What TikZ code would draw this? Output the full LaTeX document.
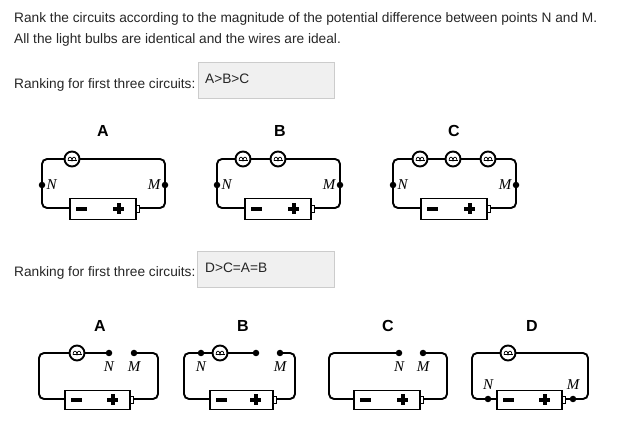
\documentclass[tikz,border=0pt]{standalone}
\usepackage{fontspec}
\setmainfont{Liberation Sans}
\newfontfamily\serifit{Liberation Serif}
\tikzset{
 wire/.style={line width=1.9pt,rounded corners=5pt},
 txt/.style={anchor=base west,inner sep=0pt,font=\fontsize{13.7}{16}\selectfont,text=black!85},
 ttl/.style={font=\fontsize{16}{18}\selectfont\bfseries},
 lab/.style={font=\serifit\itshape\fontsize{15}{17}\selectfont,inner sep=1pt},
 dot/.style={circle,fill=black,inner sep=0pt,minimum size=6.5pt},
 ansbox/.style={draw=black!20,fill=black!6}
}
\newcommand\batt[4]{% x1 x2 yc h
 \draw[line width=1.9pt,fill=white] (#1,{#3-#4/2}) rectangle (#2,{#3+#4/2});
 \draw[line width=1.2pt,fill=white] (#2,{#3-3.5}) rectangle ({#2+3.5},{#3+3.5});
 \fill ({#1+6},{#3-2}) rectangle ({#1+17},{#3+2});
 \fill ({#2-23},{#3-2}) rectangle ({#2-12},{#3+2});
 \fill ({#2-19.5},{#3-5.5}) rectangle ({#2-15.5},{#3+5.5});
}
\newcommand\bulb[2]{%
 \draw[line width=1.9pt,fill=white] (#1,#2) circle (7.5);
 \draw[line width=0.7pt] ({#1-4},{#2+1.5}) .. controls ({#1-4},{#2-3}) and ({#1},{#2-3}) .. ({#1},{#2+1.5})
   .. controls ({#1},{#2-3}) and ({#1+4},{#2-3}) .. ({#1+4},{#2+1.5});
 \draw[line width=0.7pt] ({#1-4.5},{#2+1.5}) -- ({#1+4.5},{#2+1.5});
}
\begin{document}
\begin{tikzpicture}[x=1pt,y=-1pt]
\useasboundingbox (0,0) rectangle (619,446);
\node[txt] (t1) at (14,23) {Rank the circuits according to the magnitude of the potential difference between points N and M.};
\node[txt] (t2) at (14,44) {All the light bulbs are identical and the wires are ideal.};
\node[txt] (r1) at (14,89) {Ranking for first three circuits:};
\draw[ansbox] (198,62) rectangle (334,98);
\node[txt] (a1) at (205,84) {A>B>C};
\node[txt] (r2) at (14,277) {Ranking for first three circuits:};
\draw[ansbox] (197,251) rectangle (334,287);
\node[txt] (a2) at (205,273) {D>C=A=B};
% top A
\node[ttl] (lA) at (103,131) {A};
\draw[wire] (80,208) -- (42,208) -- (42,159) -- (165,159) -- (165,208) -- (130,208);
\batt{70}{136}{209}{21}
\bulb{72}{159}
\node[dot] (nA) at (42,185) {}; \node[lab,anchor=west] at (nA.east) {N};
\node[dot] (mA) at (165,185) {}; \node[lab,anchor=east] at (mA.west) {M};
% top B
\node[ttl] (lB) at (280,131) {B};
\draw[wire] (255,208) -- (217,208) -- (217,159) -- (340,159) -- (340,208) -- (305,208);
\batt{245}{311}{209}{21}
\bulb{243}{159}\bulb{278}{159}
\node[dot] (nB) at (217,185) {}; \node[lab,anchor=west] at (nB.east) {N};
\node[dot] (mB) at (340,185) {}; \node[lab,anchor=east] at (mB.west) {M};
% top C
\node[ttl] (lC) at (454,131) {C};
\draw[wire] (431,208) -- (393,208) -- (393,159) -- (516,159) -- (516,208) -- (481,208);
\batt{421}{487}{209}{21}
\bulb{420}{159}\bulb{453}{159}\bulb{488}{159}
\node[dot] (nC) at (393,185) {}; \node[lab,anchor=west] at (nC.east) {N};
\node[dot] (mC) at (516,185) {}; \node[lab,anchor=east] at (mC.west) {M};
% bottom A
\node[ttl] (bA) at (100,326) {A};
\node[dot] (bnA) at (109,353) {}; \node[dot] (bmA) at (134,353) {};
\draw[wire] (bnA.center) -- (39,353) -- (39,399) -- (75,399);
\draw[wire] (bmA.center) -- (158,353) -- (158,399) -- (125,399);
\batt{65}{130}{400}{19}
\bulb{77}{353}
\node[lab] at (109,367) {N}; \node[lab] at (134,367) {M};
% bottom B
\node[ttl] (bB) at (243,326) {B};
\node[dot] (bnB) at (201,353) {}; \node[dot] (bkB) at (256,353) {}; \node[dot] (bmB) at (280,353) {};
\draw[wire] (bkB.center) -- (184,353) -- (184,399) -- (220,399);
\draw[wire] (bmB.center) -- (295,353) -- (295,399) -- (268,399);
\batt{210}{273}{400}{19}
\bulb{220}{353}
\node[lab] at (201,367) {N}; \node[lab] at (280,367) {M};
% bottom C
\node[ttl] (bC) at (388,326) {C};
\node[dot] (bnC) at (399,353) {}; \node[dot] (bmC) at (423,353) {};
\draw[wire] (bnC.center) -- (329,353) -- (329,399) -- (364,399);
\draw[wire] (bmC.center) -- (447,353) -- (447,399) -- (415,399);
\batt{354}{420}{400}{19}
\node[lab] at (399,367) {N}; \node[lab] at (423,367) {M};
% bottom D
\node[ttl] (bD) at (532,326) {D};
\node[dot] (bnD) at (488,399) {}; \node[dot] (bmD) at (573,399) {};
\draw[wire] (bnD.center) -- (472,399) -- (472,353) -- (588,353) -- (588,399) -- (bmD.center);
\draw[wire] (bnD.center) -- (497,399); \draw[wire] (565,399) -- (bmD.center);
\batt{497}{562}{400}{19}
\bulb{508}{353}
\node[lab] at (488,385) {N}; \node[lab] at (573,385) {M};
\end{tikzpicture}
\end{document}
